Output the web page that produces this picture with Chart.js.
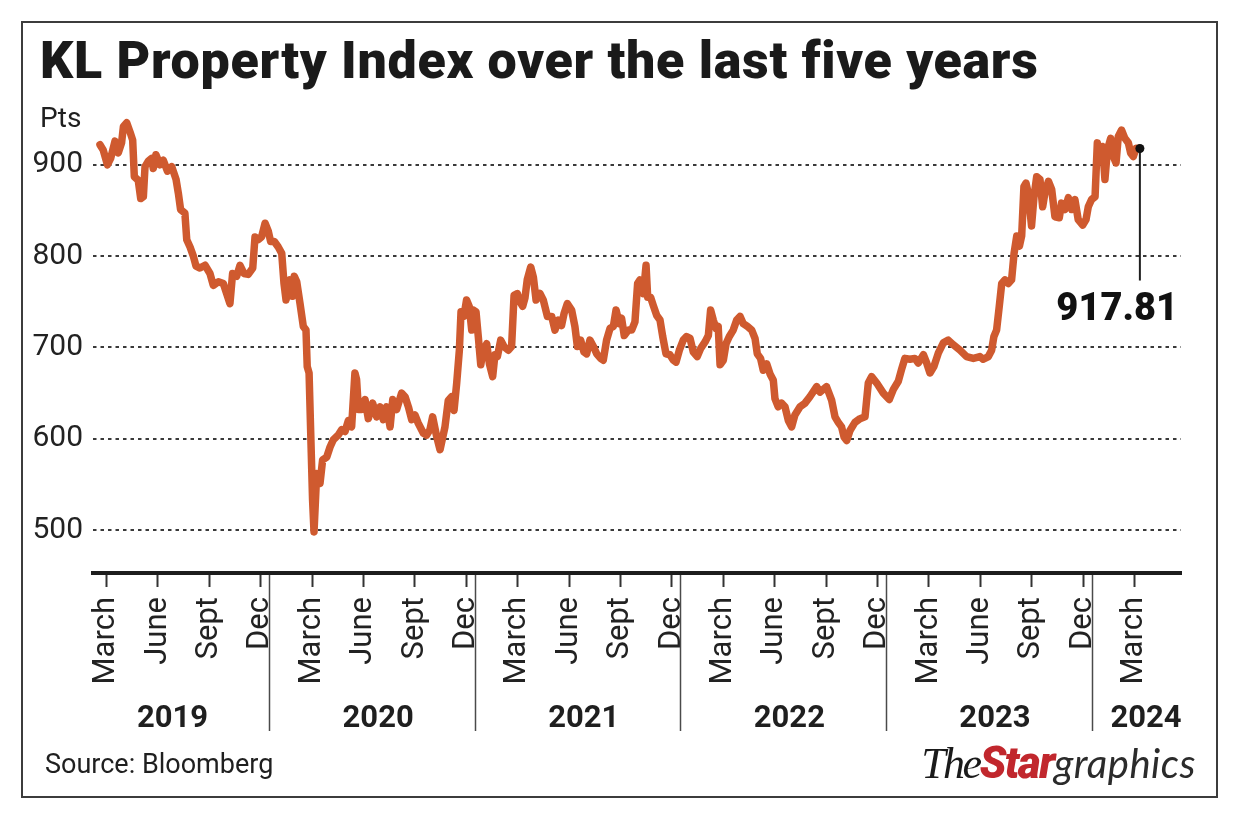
<!DOCTYPE html>
<html>
<head>
<meta charset="utf-8">
<title>KL Property Index over the last five years</title>
<script src="https://cdn.jsdelivr.net/npm/chart.js@4.4.1/dist/chart.umd.min.js"></script>
<style>
  html, body { margin: 0; padding: 0; background: #fff; }
  body { width: 1240px; height: 817px; position: relative; overflow: hidden; font-family: Roboto, "Noto Sans", sans-serif; color: #1f1f1f; }
  #frame { position: absolute; left: 21px; top: 21px; width: 1197px; height: 777px; border: 2px solid #3c3c3c; box-sizing: border-box; }
  #chart { position: absolute; left: 0; top: 0; }
  .txt { position: absolute; line-height: 1; white-space: nowrap; }
  #title { left: 40px; top: 35px; font-size: 52px; font-weight: 900; letter-spacing: 0.7px; color: #1a1a1a; }
  #unit { left: 40px; top: 104px; font-size: 28px; }
  #source { left: 45px; top: 751px; font-size: 27px; }
  #logo { right: 44px; top: 741px; font-size: 40px; }
  #logo .the { font-family: "Liberation Serif", serif; font-style: italic; font-size: 44px; letter-spacing: -2.5px; color: #1a1a1a; }
  #logo .star { font-weight: 900; font-style: italic; font-size: 44px; letter-spacing: -1.5px; color: #c1272d; }
  #logo .gfx { font-family: Lato, Roboto, sans-serif; font-style: italic; letter-spacing: 0.5px; color: #2b2b2b; }
</style>
</head>
<body>
<div id="frame"></div>
<canvas id="chart" width="1240" height="817"></canvas>
<div id="title" class="txt">KL Property Index over the last five years</div>
<div id="unit" class="txt">Pts</div>
<div id="source" class="txt">Source: Bloomberg</div>
<div id="logo" class="txt"><span class="the">The</span><span class="star">Star</span><span class="gfx">graphics</span></div>
<script>
// dates as decimal years, values in index points
const dates = [
  2019.177, 2019.193, 2019.213, 2019.229, 2019.250, 2019.266, 2019.282, 2019.291, 2019.307, 2019.323,
  2019.336, 2019.344, 2019.363, 2019.375, 2019.388, 2019.396, 2019.412, 2019.428, 2019.436, 2019.449,
  2019.469, 2019.485, 2019.505, 2019.526, 2019.547, 2019.558, 2019.569, 2019.590, 2019.599, 2019.615,
  2019.631, 2019.644, 2019.663, 2019.688, 2019.712, 2019.728, 2019.753, 2019.777, 2019.793, 2019.809,
  2019.822, 2019.842, 2019.858, 2019.877, 2019.898, 2019.920, 2019.931, 2019.947, 2019.963, 2019.980,
  2019.996, 2020.007, 2020.025, 2020.044, 2020.061, 2020.072, 2020.082, 2020.093, 2020.101, 2020.113,
  2020.122, 2020.134, 2020.150, 2020.166, 2020.179, 2020.185, 2020.194, 2020.202, 2020.211, 2020.218,
  2020.231, 2020.247, 2020.260, 2020.280, 2020.296, 2020.312, 2020.336, 2020.353, 2020.369, 2020.385,
  2020.401, 2020.417, 2020.425, 2020.434, 2020.450, 2020.466, 2020.482, 2020.503, 2020.523, 2020.539,
  2020.555, 2020.571, 2020.588, 2020.601, 2020.620, 2020.644, 2020.661, 2020.677, 2020.693, 2020.709,
  2020.725, 2020.750, 2020.766, 2020.782, 2020.795, 2020.815, 2020.831, 2020.855, 2020.871, 2020.887,
  2020.899, 2020.912, 2020.925, 2020.933, 2020.947, 2020.960, 2020.973, 2020.985, 2020.993, 2021.006,
  2021.017, 2021.029, 2021.041, 2021.058, 2021.071, 2021.087, 2021.098, 2021.110, 2021.126, 2021.142,
  2021.163, 2021.179, 2021.191, 2021.207, 2021.220, 2021.233, 2021.244, 2021.255, 2021.272, 2021.285,
  2021.298, 2021.317, 2021.333, 2021.353, 2021.374, 2021.390, 2021.406, 2021.422, 2021.434, 2021.450,
  2021.471, 2021.487, 2021.499, 2021.515, 2021.531, 2021.544, 2021.560, 2021.577, 2021.593, 2021.612,
  2021.625, 2021.641, 2021.658, 2021.674, 2021.687, 2021.703, 2021.714, 2021.727, 2021.747, 2021.763,
  2021.779, 2021.792, 2021.803, 2021.820, 2021.833, 2021.841, 2021.855, 2021.868, 2021.885, 2021.901,
  2021.914, 2021.930, 2021.949, 2021.966, 2021.979, 2021.995, 2022.014, 2022.030, 2022.047, 2022.063,
  2022.082, 2022.099, 2022.120, 2022.136, 2022.147, 2022.160, 2022.173, 2022.184, 2022.193, 2022.209,
  2022.222, 2022.238, 2022.257, 2022.274, 2022.290, 2022.306, 2022.326, 2022.347, 2022.363, 2022.374,
  2022.390, 2022.403, 2022.420, 2022.436, 2022.452, 2022.460, 2022.476, 2022.492, 2022.509, 2022.525,
  2022.541, 2022.557, 2022.582, 2022.606, 2022.630, 2022.663, 2022.679, 2022.711, 2022.736, 2022.752,
  2022.768, 2022.784, 2022.796, 2022.809, 2022.825, 2022.849, 2022.874, 2022.898, 2022.914, 2022.930,
  2022.955, 2022.987, 2023.016, 2023.036, 2023.060, 2023.076, 2023.092, 2023.117, 2023.141, 2023.157,
  2023.182, 2023.198, 2023.214, 2023.233, 2023.255, 2023.279, 2023.303, 2023.327, 2023.360, 2023.392,
  2023.425, 2023.457, 2023.473, 2023.498, 2023.514, 2023.525, 2023.538, 2023.551, 2023.563, 2023.579,
  2023.595, 2023.611, 2023.623, 2023.636, 2023.649, 2023.660, 2023.671, 2023.681, 2023.692, 2023.708,
  2023.720, 2023.733, 2023.749, 2023.762, 2023.773, 2023.790, 2023.806, 2023.822, 2023.843, 2023.854,
  2023.871, 2023.887, 2023.903, 2023.919, 2023.935, 2023.957, 2023.973, 2023.984, 2024.000, 2024.017,
  2024.028, 2024.041, 2024.054, 2024.065, 2024.077, 2024.093, 2024.106, 2024.119, 2024.130, 2024.146,
  2024.162, 2024.179, 2024.190, 2024.203, 2024.216, 2024.235
];
const points = [
  922, 916, 900, 907, 926, 913, 924, 942, 946, 936,
  927, 887, 883, 863, 865, 898, 904, 907, 896, 911,
  900, 905, 893, 898, 884, 869, 851, 847, 818, 810,
  800, 789, 787, 790, 781, 768, 772, 770, 759, 748,
  781, 778, 790, 781, 780, 787, 821, 818, 821, 836,
  827, 816, 816, 810, 803, 770, 752, 766, 774, 756,
  778, 772, 748, 723, 719, 679, 672, 606, 533, 498,
  562, 551, 577, 580, 591, 599, 604, 610, 608, 620,
  613, 672, 665, 632, 632, 643, 622, 639, 624, 635,
  621, 635, 613, 643, 632, 650, 646, 635, 621, 626,
  617, 606, 604, 610, 624, 602, 588, 613, 642, 646,
  631, 661, 697, 739, 734, 752, 745, 719, 741, 739,
  712, 681, 697, 704, 682, 668, 692, 690, 708, 701,
  697, 701, 757, 759, 750, 745, 754, 774, 788, 777,
  752, 759, 752, 734, 734, 719, 730, 724, 737, 748,
  741, 723, 701, 708, 695, 693, 708, 701, 693, 688,
  686, 708, 721, 723, 741, 726, 732, 713, 719, 719,
  728, 770, 774, 759, 790, 755, 755, 746, 735, 730,
  712, 693, 692, 686, 684, 697, 708, 712, 710, 695,
  690, 699, 706, 713, 741, 730, 721, 723, 681, 686,
  704, 712, 719, 730, 734, 726, 723, 719, 710, 693,
  688, 675, 682, 671, 664, 644, 635, 639, 635, 620,
  613, 626, 635, 639, 646, 657, 651, 657, 642, 624,
  618, 613, 602, 598, 609, 618, 622, 624, 661, 668,
  661, 650, 643, 654, 663, 676, 688, 687, 688, 683,
  692, 683, 672, 679, 694, 705, 708, 703, 697, 690,
  688, 690, 687, 690, 697, 712, 719, 745, 770, 774,
  770, 774, 803, 822, 811, 822, 876, 880, 869, 833,
  865, 887, 884, 854, 869, 882, 873, 843, 842, 858,
  851, 864, 851, 862, 840, 834, 840, 854, 862, 865,
  924, 906, 920, 884, 916, 929, 909, 902, 931, 938,
  929, 924, 913, 909, 918, 917.81
];
const years = [2019, 2020, 2021, 2022, 2023, 2024];
const monthNames = ['March', 'June', 'Sept', 'Dec'];
const monthNums = [3, 6, 9, 12];
const yTicks = [500, 600, 700, 800, 900];

const xMin = 2019.143, xMax = 2024.435;
const lineColor = '#cf5a2f';

// month ticks sit mid-month, only those inside the visible range
const monthTicks = [];
years.forEach(y => monthNums.forEach((m, i) => {
    const v = y + (m - 0.5) / 12;
    if (v >= xMin && v <= xMax) monthTicks.push({ v, label: monthNames[i] });
}));
const yearPos = years.map(y => Math.min(y + 0.53, xMax - 0.17));

Chart.defaults.font.family = 'Roboto';
Chart.defaults.color = '#222';

const yearRules = {
    id: 'yearRules',
    afterDraw(chart) {
        const { ctx, chartArea } = chart;
        const x = chart.scales.x;
        const bottom = chart.scales.xYear.bottom - 5;
        ctx.save();
        ctx.strokeStyle = '#4a4a4a';
        ctx.lineWidth = 1.5;
        years.slice(1).forEach(y => {
            const px = Math.round(x.getPixelForValue(y)) + 0.5;
            ctx.beginPath();
            ctx.moveTo(px, chartArea.bottom + 2);
            ctx.lineTo(px, bottom);
            ctx.stroke();
        });
        ctx.restore();
    }
};

const lastLabel = {
    id: 'lastLabel',
    afterDatasetsDraw(chart) {
        const meta = chart.getDatasetMeta(0);
        const pt = meta.data[meta.data.length - 1];
        const { ctx, chartArea } = chart;
        ctx.save();
        ctx.strokeStyle = '#1f1f1f';
        ctx.lineWidth = 2;
        ctx.beginPath();
        ctx.moveTo(pt.x, pt.y);
        ctx.lineTo(pt.x, pt.y + 132);
        ctx.stroke();
        ctx.fillStyle = '#111';
        ctx.beginPath();
        ctx.arc(pt.x, pt.y, 4.5, 0, Math.PI * 2);
        ctx.fill();
        ctx.font = '900 38px Roboto';
        ctx.textAlign = 'right';
        ctx.textBaseline = 'alphabetic';
        ctx.fillText(points[points.length - 1].toFixed(2), chartArea.right - 3, pt.y + 171);
        ctx.restore();
    }
};

new Chart(document.getElementById('chart'), {
    type: 'line',
    data: {
        datasets: [{
            data: dates.map((d, i) => ({ x: d, y: points[i] })),
            borderColor: lineColor, borderWidth: 7.5, pointRadius: 0, tension: 0,
            borderJoinStyle: 'round', borderCapStyle: 'round'
        }]
    },
    options: {
        responsive: false, animation: false, devicePixelRatio: 1,
        layout: { padding: { top: 110, right: 59, bottom: 81, left: 0 } },
        plugins: { legend: { display: false }, tooltip: { enabled: false } },
        scales: {
            x: {
                type: 'linear', position: 'bottom', weight: 0, min: xMin, max: xMax,
                afterBuildTicks: s => { s.ticks = monthTicks.map(t => ({ value: t.v })); },
                afterFit: s => { s.height = 128; },
                ticks: {
                    autoSkip: false, maxRotation: 90, minRotation: 90, padding: 10,
                    color: '#222', font: { size: 31 },
                    callback: (v, i) => monthTicks[i] ? monthTicks[i].label : ''
                },
                grid: { drawOnChartArea: false, drawTicks: true, tickLength: 14, tickWidth: 2, tickColor: '#333', color: '#333' },
                border: { display: true, width: 4, color: '#1d1d1d' }
            },
            xYear: {
                axis: 'x', type: 'linear', position: 'bottom', weight: 1, min: xMin, max: xMax,
                afterBuildTicks: s => { s.ticks = yearPos.map(v => ({ value: v })); },
                afterFit: s => { s.height = 35; },
                ticks: {
                    autoSkip: false, maxRotation: 0, minRotation: 0, padding: 0,
                    color: '#1f1f1f', font: { size: 31, weight: 'bold' },
                    callback: (v, i) => String(years[i])
                },
                grid: { display: false, drawTicks: false },
                border: { display: false }
            },
            y: {
                min: 453, max: 960,
                afterBuildTicks: s => { s.ticks = yTicks.map(v => ({ value: v })); },
                afterFit: s => { s.width = 93; },
                ticks: { padding: 10, color: '#222', font: { size: 30 } },
                grid: { color: '#3a3a3a', lineWidth: 2, drawTicks: false },
                border: { display: false, dash: [3.5, 4] }
            }
        }
    },
    plugins: [yearRules, lastLabel]
});
</script>
</body>
</html>
